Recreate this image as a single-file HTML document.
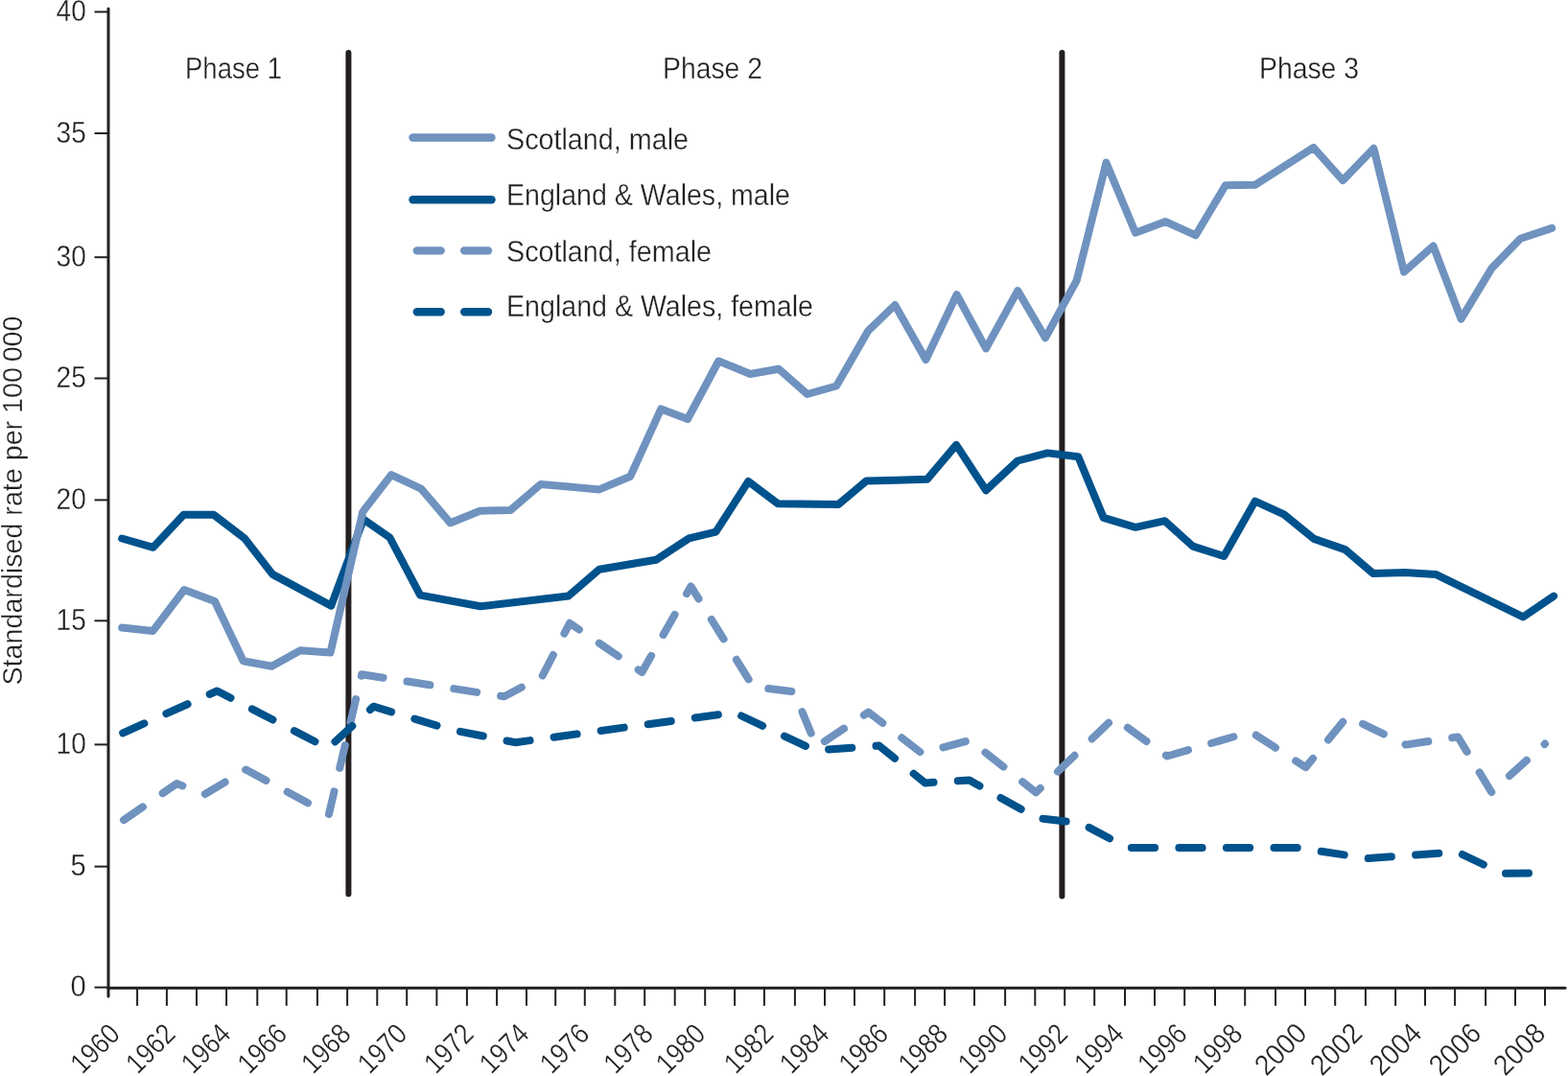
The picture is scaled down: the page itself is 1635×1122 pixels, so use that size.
<!DOCTYPE html>
<html><head><meta charset="utf-8"><title>Standardised suicide rates</title>
<style>html,body{margin:0;padding:0;background:#fff;}svg{display:block;}</style></head>
<body>
<svg width="1635" height="1122" viewBox="0 0 1635 1122">
<rect width="1635" height="1122" fill="#fff"/>
<g stroke="#231f20" fill="none">
<line x1="113" y1="9" x2="113" y2="1039" stroke-width="3" stroke-linecap="round"/>
<line x1="113" y1="1030.3" x2="1632" y2="1030.3" stroke-width="3" stroke-linecap="round"/>
<line x1="98.5" y1="12.4" x2="113" y2="12.4" stroke-width="2"/>
<line x1="98.5" y1="139.0" x2="113" y2="139.0" stroke-width="2"/>
<line x1="98.5" y1="268.25" x2="113" y2="268.25" stroke-width="2"/>
<line x1="98.5" y1="394.5" x2="113" y2="394.5" stroke-width="2"/>
<line x1="98.5" y1="521.4" x2="113" y2="521.4" stroke-width="2"/>
<line x1="98.5" y1="647.3" x2="113" y2="647.3" stroke-width="2"/>
<line x1="98.5" y1="776.4" x2="113" y2="776.4" stroke-width="2"/>
<line x1="98.5" y1="903.6" x2="113" y2="903.6" stroke-width="2"/>
<line x1="98.5" y1="1029.6" x2="113" y2="1029.6" stroke-width="2"/>
<line x1="143.1" y1="1030" x2="143.1" y2="1048.8" stroke-width="2"/>
<line x1="173.9" y1="1030" x2="173.9" y2="1048.8" stroke-width="2"/>
<line x1="205.0" y1="1030" x2="205.0" y2="1048.8" stroke-width="2"/>
<line x1="236.1" y1="1030" x2="236.1" y2="1048.8" stroke-width="2"/>
<line x1="268.3" y1="1030" x2="268.3" y2="1048.8" stroke-width="2"/>
<line x1="298.7" y1="1030" x2="298.7" y2="1048.8" stroke-width="2"/>
<line x1="330.9" y1="1030" x2="330.9" y2="1048.8" stroke-width="2"/>
<line x1="362.1" y1="1030" x2="362.1" y2="1048.8" stroke-width="2"/>
<line x1="393.3" y1="1030" x2="393.3" y2="1048.8" stroke-width="2"/>
<line x1="424.2" y1="1030" x2="424.2" y2="1048.8" stroke-width="2"/>
<line x1="455.4" y1="1030" x2="455.4" y2="1048.8" stroke-width="2"/>
<line x1="486.9" y1="1030" x2="486.9" y2="1048.8" stroke-width="2"/>
<line x1="518.1" y1="1030" x2="518.1" y2="1048.8" stroke-width="2"/>
<line x1="549.0" y1="1030" x2="549.0" y2="1048.8" stroke-width="2"/>
<line x1="579.2" y1="1030" x2="579.2" y2="1048.8" stroke-width="2"/>
<line x1="609.8" y1="1030" x2="609.8" y2="1048.8" stroke-width="2"/>
<line x1="641.3" y1="1030" x2="641.3" y2="1048.8" stroke-width="2"/>
<line x1="672.2" y1="1030" x2="672.2" y2="1048.8" stroke-width="2"/>
<line x1="703.7" y1="1030" x2="703.7" y2="1048.8" stroke-width="2"/>
<line x1="735.2" y1="1030" x2="735.2" y2="1048.8" stroke-width="2"/>
<line x1="766.1" y1="1030" x2="766.1" y2="1048.8" stroke-width="2"/>
<line x1="796.9" y1="1030" x2="796.9" y2="1048.8" stroke-width="2"/>
<line x1="828.9" y1="1030" x2="828.9" y2="1048.8" stroke-width="2"/>
<line x1="860.0" y1="1030" x2="860.0" y2="1048.8" stroke-width="2"/>
<line x1="891.0" y1="1030" x2="891.0" y2="1048.8" stroke-width="2"/>
<line x1="922.2" y1="1030" x2="922.2" y2="1048.8" stroke-width="2"/>
<line x1="954.1" y1="1030" x2="954.1" y2="1048.8" stroke-width="2"/>
<line x1="985.1" y1="1030" x2="985.1" y2="1048.8" stroke-width="2"/>
<line x1="1016.0" y1="1030" x2="1016.0" y2="1048.8" stroke-width="2"/>
<line x1="1048.1" y1="1030" x2="1048.1" y2="1048.8" stroke-width="2"/>
<line x1="1079.3" y1="1030" x2="1079.3" y2="1048.8" stroke-width="2"/>
<line x1="1110.2" y1="1030" x2="1110.2" y2="1048.8" stroke-width="2"/>
<line x1="1141.2" y1="1030" x2="1141.2" y2="1048.8" stroke-width="2"/>
<line x1="1173.0" y1="1030" x2="1173.0" y2="1048.8" stroke-width="2"/>
<line x1="1204.0" y1="1030" x2="1204.0" y2="1048.8" stroke-width="2"/>
<line x1="1235.2" y1="1030" x2="1235.2" y2="1048.8" stroke-width="2"/>
<line x1="1267.0" y1="1030" x2="1267.0" y2="1048.8" stroke-width="2"/>
<line x1="1298.2" y1="1030" x2="1298.2" y2="1048.8" stroke-width="2"/>
<line x1="1330.0" y1="1030" x2="1330.0" y2="1048.8" stroke-width="2"/>
<line x1="1361.0" y1="1030" x2="1361.0" y2="1048.8" stroke-width="2"/>
<line x1="1392.2" y1="1030" x2="1392.2" y2="1048.8" stroke-width="2"/>
<line x1="1423.9" y1="1030" x2="1423.9" y2="1048.8" stroke-width="2"/>
<line x1="1455.1" y1="1030" x2="1455.1" y2="1048.8" stroke-width="2"/>
<line x1="1486.0" y1="1030" x2="1486.0" y2="1048.8" stroke-width="2"/>
<line x1="1517.1" y1="1030" x2="1517.1" y2="1048.8" stroke-width="2"/>
<line x1="1549.1" y1="1030" x2="1549.1" y2="1048.8" stroke-width="2"/>
<line x1="1580.0" y1="1030" x2="1580.0" y2="1048.8" stroke-width="2"/>
<line x1="1611.0" y1="1030" x2="1611.0" y2="1048.8" stroke-width="2"/>
<line x1="363.4" y1="55" x2="363.4" y2="932.2" stroke-width="6" stroke-linecap="round"/>
<line x1="1107.4" y1="55" x2="1107.4" y2="934.5" stroke-width="6" stroke-linecap="round"/>
</g>
<g font-family="'Liberation Sans', Arial, sans-serif" font-size="31" fill="#231f20" stroke="#fff" stroke-width="0.3">
<text x="89.8" y="21.9" text-anchor="end" textLength="31.2" lengthAdjust="spacingAndGlyphs">40</text>
<text x="89.8" y="148.5" text-anchor="end" textLength="31.2" lengthAdjust="spacingAndGlyphs">35</text>
<text x="89.8" y="277.8" text-anchor="end" textLength="31.2" lengthAdjust="spacingAndGlyphs">30</text>
<text x="89.8" y="404.0" text-anchor="end" textLength="31.2" lengthAdjust="spacingAndGlyphs">25</text>
<text x="89.8" y="530.9" text-anchor="end" textLength="31.2" lengthAdjust="spacingAndGlyphs">20</text>
<text x="89.8" y="656.8" text-anchor="end" textLength="31.2" lengthAdjust="spacingAndGlyphs">15</text>
<text x="89.8" y="785.9" text-anchor="end" textLength="31.2" lengthAdjust="spacingAndGlyphs">10</text>
<text x="89.8" y="913.1" text-anchor="end" textLength="16.2" lengthAdjust="spacingAndGlyphs">5</text>
<text x="89.8" y="1039.1" text-anchor="end" textLength="16.2" lengthAdjust="spacingAndGlyphs">0</text>
<text x="193" y="82.2" textLength="101" lengthAdjust="spacingAndGlyphs">Phase 1</text>
<text x="691" y="82.2" textLength="104" lengthAdjust="spacingAndGlyphs">Phase 2</text>
<text x="1313" y="81.7" textLength="104" lengthAdjust="spacingAndGlyphs">Phase 3</text>
<text transform="translate(23.4,714.5) rotate(-90)" font-size="30" textLength="385" lengthAdjust="spacingAndGlyphs">Standardised rate per 100&#8201;000</text>
<text x="528" y="156.1" textLength="190" lengthAdjust="spacingAndGlyphs">Scotland, male</text>
<text x="528" y="214.2" textLength="296" lengthAdjust="spacingAndGlyphs">England &amp; Wales, male</text>
<text x="528" y="273" textLength="214" lengthAdjust="spacingAndGlyphs">Scotland, female</text>
<text x="528" y="330.2" textLength="320" lengthAdjust="spacingAndGlyphs">England &amp; Wales, female</text>
<text transform="translate(85.7,1121.1) rotate(-45)" font-size="30" textLength="58" lengthAdjust="spacingAndGlyphs">1960</text>
<text transform="translate(143.5,1121.1) rotate(-45)" font-size="30" textLength="58" lengthAdjust="spacingAndGlyphs">1962</text>
<text transform="translate(201.3,1121.1) rotate(-45)" font-size="30" textLength="58" lengthAdjust="spacingAndGlyphs">1964</text>
<text transform="translate(259.9,1121.1) rotate(-45)" font-size="30" textLength="58" lengthAdjust="spacingAndGlyphs">1966</text>
<text transform="translate(326.5,1121.1) rotate(-45)" font-size="30" textLength="58" lengthAdjust="spacingAndGlyphs">1968</text>
<text transform="translate(385.2,1121.1) rotate(-45)" font-size="30" textLength="58" lengthAdjust="spacingAndGlyphs">1970</text>
<text transform="translate(454.5,1121.1) rotate(-45)" font-size="30" textLength="58" lengthAdjust="spacingAndGlyphs">1972</text>
<text transform="translate(512.3,1121.1) rotate(-45)" font-size="30" textLength="58" lengthAdjust="spacingAndGlyphs">1974</text>
<text transform="translate(575.3,1121.1) rotate(-45)" font-size="30" textLength="58" lengthAdjust="spacingAndGlyphs">1976</text>
<text transform="translate(641.7,1121.1) rotate(-45)" font-size="30" textLength="58" lengthAdjust="spacingAndGlyphs">1978</text>
<text transform="translate(696.2,1121.1) rotate(-45)" font-size="30" textLength="58" lengthAdjust="spacingAndGlyphs">1980</text>
<text transform="translate(767.2,1121.1) rotate(-45)" font-size="30" textLength="58" lengthAdjust="spacingAndGlyphs">1982</text>
<text transform="translate(825.2,1121.1) rotate(-45)" font-size="30" textLength="58" lengthAdjust="spacingAndGlyphs">1984</text>
<text transform="translate(887.0,1121.1) rotate(-45)" font-size="30" textLength="58" lengthAdjust="spacingAndGlyphs">1986</text>
<text transform="translate(949.0,1121.1) rotate(-45)" font-size="30" textLength="58" lengthAdjust="spacingAndGlyphs">1988</text>
<text transform="translate(1011.3,1121.1) rotate(-45)" font-size="30" textLength="58" lengthAdjust="spacingAndGlyphs">1990</text>
<text transform="translate(1074.1,1121.1) rotate(-45)" font-size="30" textLength="58" lengthAdjust="spacingAndGlyphs">1992</text>
<text transform="translate(1132.4,1121.1) rotate(-45)" font-size="30" textLength="58" lengthAdjust="spacingAndGlyphs">1994</text>
<text transform="translate(1198.5,1121.1) rotate(-45)" font-size="30" textLength="58" lengthAdjust="spacingAndGlyphs">1996</text>
<text transform="translate(1256.3,1121.1) rotate(-45)" font-size="30" textLength="58" lengthAdjust="spacingAndGlyphs">1998</text>
<text transform="translate(1320.6,1123.1) rotate(-45)" font-size="30" textLength="62" lengthAdjust="spacingAndGlyphs">2000</text>
<text transform="translate(1378.4,1123.1) rotate(-45)" font-size="30" textLength="62" lengthAdjust="spacingAndGlyphs">2002</text>
<text transform="translate(1440.3,1123.1) rotate(-45)" font-size="30" textLength="62" lengthAdjust="spacingAndGlyphs">2004</text>
<text transform="translate(1502.3,1123.1) rotate(-45)" font-size="30" textLength="62" lengthAdjust="spacingAndGlyphs">2006</text>
<text transform="translate(1569.5,1123.1) rotate(-45)" font-size="30" textLength="62" lengthAdjust="spacingAndGlyphs">2008</text>
</g>
<g fill="none" stroke-width="8.4" stroke-linecap="round">
<line x1="430.5" y1="143.5" x2="512.5" y2="143.5" stroke="#6f92bf"/>
<line x1="430.5" y1="208.3" x2="512.5" y2="208.3" stroke="#00528c"/>
<line x1="434.8" y1="261.4" x2="509" y2="261.4" stroke="#6f92bf" stroke-dasharray="24.9 24.5"/>
<line x1="434.8" y1="325.2" x2="509" y2="325.2" stroke="#00528c" stroke-dasharray="24.9 24.5"/>
</g>
<g fill="none" stroke-width="8" stroke-linecap="round" stroke-linejoin="round">
<polyline points="129.0,855.1 184.3,817.1 213.5,828.2 256.4,802.5 342.9,849.1 377.2,703.2 525.8,726.3 565.5,705.0 594.0,649.8 669.4,700.9 720.4,611.4 785.5,716.2 827.7,721.2 851.5,778.6 905.6,742.6 961.0,785.3 1011.3,771.9 1080.2,826.3 1161.5,748.5 1217.0,788.5 1304.2,763.0 1361.5,800.1 1404.9,747.1 1466.0,776.6 1520.2,768.4 1555.2,826.0 1611.0,775.6" stroke="#6f92bf" stroke-dasharray="24.182 25.189"/>
<polyline points="128.2,764.3 226.4,720.5 342.0,780.2 389.5,736.7 468.8,760.6 537.3,774.2 765.5,742.9 849.8,782.6 916.7,777.6 964.6,816.4 1010.8,813.6 1080.9,852.9 1127.1,858.3 1175.0,884.0 1353.3,884.1 1426.8,895.1 1519.4,888.4 1566.3,910.8 1594.0,910.4" stroke="#00528c" stroke-dasharray="24.262 25.273"/>
<polyline points="127.2,561.5 159.7,570.8 191.5,536.8 222.8,536.8 255.3,561.6 284.2,598.9 345.3,631.6 379.0,541.5 406.4,560.5 438.2,620.6 501.0,632.3 592.7,621.5 624.9,593.7 684.0,583.8 718.4,561.3 746.4,554.7 780.3,502.0 811.2,525.3 874.3,525.9 903.5,501.4 934.0,500.8 966.7,499.8 997.1,463.9 1028.1,511.3 1061.2,480.5 1092.3,472.4 1124.3,476.3 1150.7,539.9 1184.0,549.8 1214.6,543.2 1243.8,569.6 1276.2,580.0 1308.7,522.6 1338.8,536.4 1370.1,561.9 1402.7,573.1 1431.7,597.9 1465.2,597.0 1497.0,598.9 1588.3,643.3 1620.1,621.6" stroke="#00528c"/>
<polyline points="127.2,654.6 159.5,657.9 192.1,615.0 223.9,627.0 253.7,689.3 283.4,694.7 313.1,678.2 344.5,680.5 378.3,533.6 408.0,495.1 439.1,509.6 469.6,545.3 500.5,532.7 532.4,531.9 563.7,505.0 593.0,507.6 624.9,510.4 657.3,496.7 689.3,426.4 717.0,437.0 749.3,376.5 782.3,390.0 812.0,384.8 841.8,411.0 872.1,402.5 905.1,345.2 933.2,318.0 965.4,375.0 997.6,307.2 1028.1,363.4 1061.2,303.1 1090.0,352.3 1122.6,292.7 1153.5,169.7 1184.0,242.7 1215.4,231.1 1246.8,245.3 1277.8,193.2 1308.7,192.8 1369.6,153.9 1400.2,188.1 1432.4,154.8 1464.0,283.5 1494.5,256.5 1523.5,332.7 1555.5,279.6 1585.5,248.7 1618.3,237.9" stroke="#6f92bf"/>
</g>
</svg>
</body></html>
